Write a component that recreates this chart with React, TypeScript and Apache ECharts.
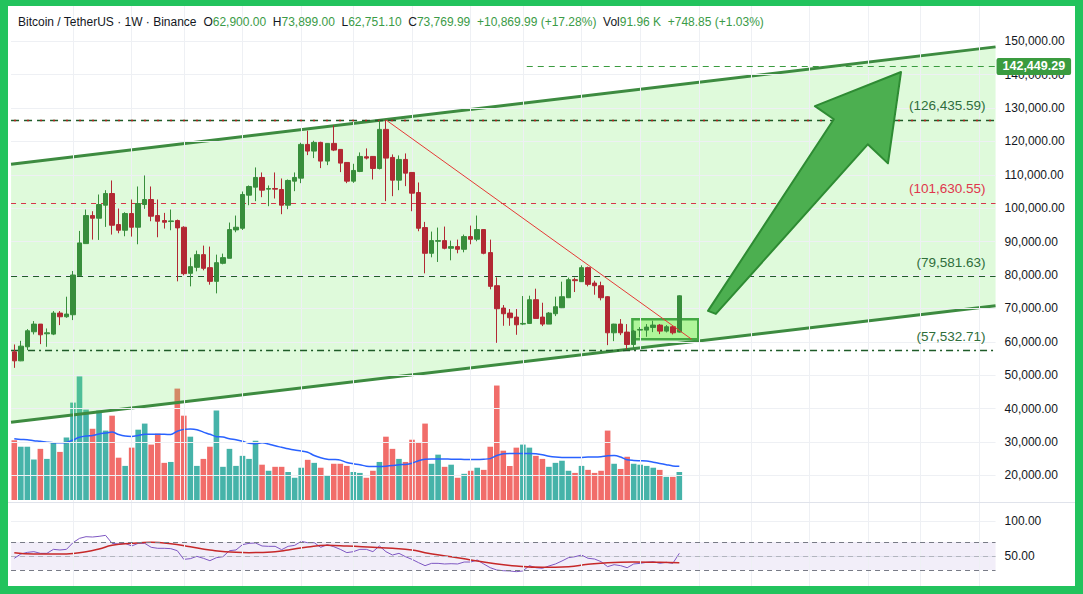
import React, { useEffect, useRef } from 'react';
import * as echarts from 'echarts';

// ---------- DATA ----------
const SLOTS = 151; // weekly slots on the time axis (103 candles + right margin)
const categories = Array.from({ length: SLOTS }, (_, i) => 'W' + i);

const opens = [
  57000, 54300, 58500, 63000, 65300, 62400, 62300, 68600, 67500, 68100,
  79800, 89400, 97800, 97000, 100900, 104400, 95100, 93400, 98400, 94300,
  101100, 102600, 97800, 96300, 96000, 96300, 94300, 80500, 82300, 86100,
  82200, 78100, 83500, 85000, 93500, 94000, 103900, 106300, 109200, 105700,
  105900, 105600, 100900, 108100, 109000, 119100, 117100, 119700, 114100, 119400,
  117600, 113700, 108100, 111000, 115400, 115500, 111900, 123600, 115200, 108400,
  114600, 110700, 104700, 94200, 86500, 90100, 90300, 88000, 88500, 87700,
  91500, 90700, 93600, 86700, 76800, 70100, 68600, 67400, 65300, 65500,
  72600, 67400, 65300, 68400, 70200, 73200, 78600, 78000, 82200, 77600,
  76800, 73500, 62700, 65300, 62900, 59200, 63500, 63500, 64300, 65000,
  63200, 64500, 62900,
];
const closes = [
  54300, 58700, 63300, 65300, 62100, 62700, 68600, 67500, 68300, 80000,
  89600, 97800, 97000, 101100, 104400, 94900, 93400, 98400, 94300, 101400,
  102600, 97600, 96100, 95800, 96200, 94100, 80400, 82500, 86100, 82000,
  78100, 83700, 85200, 93600, 94300, 104100, 106500, 109200, 105400, 105900,
  105700, 100900, 108300, 109200, 119100, 117100, 119700, 114100, 119400, 117400,
  113500, 108100, 111300, 115500, 115000, 111900, 123600, 115000, 108400, 114600,
  110500, 104500, 94000, 86500, 90300, 90300, 88000, 88500, 87700, 91500,
  90700, 93600, 86500, 76600, 69900, 68400, 67200, 65100, 65500, 72600,
  67000, 65300, 68600, 70500, 73500, 78600, 78300, 82200, 77200, 76800,
  73200, 62700, 65300, 62700, 59200, 63200, 63700, 64400, 65000, 63200,
  64500, 62700, 73769.99,
];
const lows = [
  52200, 54200, 57500, 62200, 59300, 58500, 62000, 65000, 67200, 66500,
  79800, 89400, 90600, 90500, 94400, 92100, 92500, 91600, 91500, 89200,
  99800, 96100, 91300, 93900, 93400, 78100, 79900, 76600, 81100, 81400,
  77100, 74500, 83200, 85000, 92800, 93500, 100900, 102100, 103300, 100600,
  102900, 98200, 99700, 105100, 107500, 115900, 115000, 112000, 112900, 117100,
  110800, 107500, 107600, 110800, 114600, 108600, 111600, 102100, 103600, 105400,
  106600, 99100, 93100, 80500, 85300, 83900, 87700, 84400, 86500, 86800,
  89200, 90100, 86200, 75700, 59700, 64800, 64800, 62100, 65000, 65400,
  67000, 64700, 65300, 67700, 70100, 73100, 74900, 77900, 76600, 74100,
  72400, 59000, 60200, 62000, 57800, 58000, 61300, 61500, 62900, 62300,
  62800, 62200, 62751.1,
];
const highs = [
  59200, 60300, 63800, 66200, 65300, 64000, 69200, 69200, 73500, 81200,
  93200, 99600, 99100, 104100, 105400, 108300, 99900, 98800, 102600, 106500,
  109800, 106500, 102600, 98600, 99600, 96600, 94600, 85200, 87300, 88800,
  88500, 86100, 86400, 95700, 97800, 105000, 106800, 112200, 110700, 106800,
  110700, 108900, 108600, 110700, 119600, 123200, 120200, 119900, 119500, 124800,
  117700, 113800, 113300, 116700, 117900, 115600, 126300, 126435, 116100, 115800,
  116400, 110800, 107700, 95900, 93000, 94200, 94500, 90300, 90600, 92100,
  94800, 97800, 93700, 90600, 79300, 71000, 69800, 69800, 73700, 73800,
  75900, 71700, 68900, 73500, 78000, 79200, 79200, 82900, 82500, 78300,
  78000, 73700, 65400, 66800, 65300, 63500, 64400, 65300, 66300, 65300,
  65000, 64700, 73899,
];
// weekly volume, thousands of BTC
const volumes = [
  196, 175, 175, 133, 168, 135, 188, 158, 205, 320,
  406, 297, 234, 294, 228, 277, 139, 112, 172, 231,
  251, 182, 218, 122, 125, 366, 277, 208, 112, 135,
  175, 294, 109, 168, 112, 145, 135, 195, 116, 96,
  109, 109, 92, 73, 106, 132, 122, 106, 79, 119,
  119, 112, 92, 89, 73, 96, 125, 208, 168, 135,
  125, 198, 188, 251, 119, 149, 109, 116, 73, 86,
  96, 106, 99, 175, 376, 162, 112, 172, 182, 172,
  145, 135, 109, 122, 129, 96, 89, 112, 99, 89,
  96, 228, 119, 102, 142, 119, 116, 112, 106, 99,
  76, 76, 92,
];
const volumeMA = [
  201, 199, 198, 195, 193, 190, 188, 188, 189, 197,
  206, 210, 212, 217, 220, 223, 215, 210, 209, 212,
  216, 216, 216, 216, 215, 226, 232, 233, 231, 223,
  216, 208, 207, 201, 198, 193, 186, 185, 188, 184,
  178, 173, 168, 164, 161, 157, 146, 139, 134, 133,
  131, 123, 119, 116, 111, 110, 110, 111, 113, 116,
  117, 121, 129, 134, 135, 135, 135, 134, 134, 133,
  133, 133, 134, 136, 146, 152, 153, 153, 153, 153,
  152, 149, 144, 141, 140, 140, 140, 140, 141, 141,
  142, 145, 146, 141, 132, 130, 129, 128, 124, 120,
  116, 112, 111,
];
const rsi = [
  46.7, 52.9, 55.2, 56.2, 53.8, 53.8, 59.5, 58.6, 59.5, 69.0,
  75.2, 77.6, 77.1, 78.1, 79.5, 68.1, 67.1, 68.1, 64.3, 68.1,
  68.1, 62.4, 61.0, 61.0, 60.5, 57.6, 45.2, 46.2, 49.5, 46.7,
  43.3, 47.6, 49.0, 57.6, 58.6, 66.2, 68.1, 68.6, 64.3, 63.8,
  63.8, 59.0, 63.8, 65.2, 70.9, 69.0, 69.0, 62.4, 66.2, 63.3,
  59.5, 54.8, 56.2, 59.5, 59.5, 56.2, 64.3, 56.2, 51.4, 53.8,
  49.0, 45.2, 40.5, 36.2, 39.5, 39.5, 38.6, 39.0, 38.6, 41.4,
  41.4, 44.3, 38.6, 33.3, 30.0, 29.0, 28.6, 27.6, 28.6, 36.2,
  33.3, 32.4, 35.7, 38.6, 42.9, 47.6, 49.0, 51.4, 46.7, 45.7,
  41.9, 34.8, 37.6, 36.2, 33.3, 38.6, 39.5, 41.0, 41.9, 39.5,
  41.0, 39.5, 53.8,
];
const rsiMaIdx = [0, 3, 8, 11, 13, 15, 18, 21, 24, 27, 30, 34, 36, 40, 42, 45, 48, 51, 55, 58, 61, 63, 67, 70, 73, 77, 81, 85, 88, 91, 95, 99, 102];
const rsiMaVal = [54.8, 52.9, 52.9, 56.2, 60.0, 65.2, 68.1, 69.5, 67.6, 63.3, 58.6, 55.2, 54.8, 56.2, 58.6, 62.9, 65.2, 64.3, 62.4, 61.0, 58.6, 54.8, 49.0, 44.3, 40.0, 35.7, 33.8, 34.8, 38.1, 40.5, 41.4, 41.0, 40.5];

const priceTicks = [20000, 30000, 40000, 50000, 60000, 70000, 80000, 90000, 100000, 110000, 120000, 130000, 140000, 150000];
const rsiTicks = [50, 100];
const levels = [126435.59, 101630.55, 79581.63, 57532.71];
const targetPrice = 142449.29;
const monthLines = [9, 18, 26, 35, 44, 52, 61, 70, 78, 87, 96, 105, 113, 122, 131, 139, 148];

// drawings in [week index, price]
const channelUpper = [[-0.5, 113160], [150.5, 148298]];
const channelLower = [[-0.5, 35931], [150.5, 70782]];
const trendLine = [[57, 126435.59], [103.9, 60746]];
const boxCorners = [[94.8, 66756], [104.9, 60746]];
const arrowPts = [
  [106.4, 69250], [125.7, 126645], [122.8, 130552], [136.0, 140769],
  [134.0, 113423], [130.9, 119133], [107.6, 68348],
];
const targetStart = 78.6;

// header legend: [style, text]
const headerParts: [string, string][] = [
  ['d', 'Bitcoin / TetherUS · 1W · Binance'], ['s', '  '],
  ['d', 'O'], ['g', '62,900.00'], ['s', '  '],
  ['d', 'H'], ['g', '73,899.00'], ['s', '  '],
  ['d', 'L'], ['g', '62,751.10'], ['s', '  '],
  ['d', 'C'], ['g', '73,769.99'], ['s', '  '],
  ['g', '+10,869.99 (+17.28%)'], ['s', '  '],
  ['d', 'Vol'], ['g', '91.96 K'], ['s', '  '],
  ['g', '+748.85 (+1.03%)'],
];

// ---------- STYLE ----------
const FONT = '"Liberation Sans", Arial, sans-serif';
const UP = '#388e3c';
const DOWN = '#b22833';
const DARK = '#131722';
const HEAD_GREEN = '#3b9b47';
const LEVEL_GREEN = '#2f6e3b';
const LEVEL_RED = '#e0364c';
const GRID_C = '#eef0f4';
const LEFT = 11.04;
const WIDTH = 984.5;

const fmt = (v: number) => v.toLocaleString('en-US', { minimumFractionDigits: 2, maximumFractionDigits: 2 });

const polySeries = (name: string, pts: number[][], style: any, z: number) => ({
  name,
  type: 'custom',
  xAxisIndex: 1,
  yAxisIndex: 0,
  data: [pts[0]],
  z,
  silent: true,
  clip: true,
  renderItem: (_p: any, api: any) => ({
    type: 'polygon',
    shape: { points: pts.map((pt) => api.coord(pt)) },
    style,
  }),
});

function buildOption() {
  const candleData = opens.map((o, i) => [o, closes[i], lows[i], highs[i]]);
  const volData = volumes.map((v, i) => ({
    value: v,
    itemStyle: { color: closes[i] >= opens[i] ? 'rgba(38,166,154,0.85)' : 'rgba(239,83,80,0.85)' },
  }));
  const boxPts = [
    [boxCorners[0][0], boxCorners[0][1]], [boxCorners[1][0], boxCorners[0][1]],
    [boxCorners[1][0], boxCorners[1][1]], [boxCorners[0][0], boxCorners[1][1]],
  ];
  const channelPts = [channelUpper[0], channelUpper[1], channelLower[1], channelLower[0]];

  const levelStyles = [
    { color: '#1e5b28', type: [8, 5], width: 1.3, label: LEVEL_GREEN },
    { color: '#d6334a', type: [5, 5], width: 1.2, label: LEVEL_RED },
    { color: '#1e5b28', type: [6, 5], width: 1.2, label: LEVEL_GREEN },
    { color: '#1e5b28', type: [7, 4, 2, 4], width: 1.4, label: LEVEL_GREEN },
  ];
  const levelLines: any[] = levels.map((lv, k) => ({
    yAxis: lv,
    lineStyle: { color: levelStyles[k].color, type: levelStyles[k].type, width: levelStyles[k].width },
    label: {
      show: true,
      position: 'insideEndTop',
      distance: [10, 7],
      formatter: '(' + fmt(lv) + ')',
      color: levelStyles[k].label,
      fontSize: 13.5,
      fontFamily: FONT,
    },
  }));
  levelLines.push({
    yAxis: levels[0],
    lineStyle: { color: '#b71c1c', type: [2, 11], dashOffset: 10, width: 1.3 },
    label: { show: false },
  });

  const headerText = headerParts.map(([s, t]) => '{' + s + '|' + t + '}').join('');

  return {
    animation: false,
    backgroundColor: '#ffffff',
    textStyle: { fontFamily: FONT },
    grid: [
      { left: LEFT, top: 7.8, width: WIDTH, height: 501 },
      { left: LEFT, top: 300, width: WIDTH, height: 200 },
      { left: LEFT, top: 521, width: WIDTH, height: 70 },
      { left: LEFT, top: 6, width: WIDTH, height: 580 },
    ],
    xAxis: [
      { type: 'category', gridIndex: 0, data: categories, show: false, boundaryGap: true },
      { type: 'value', gridIndex: 0, min: -0.5, max: SLOTS - 0.5, show: false },
      { type: 'category', gridIndex: 1, data: categories, show: false, boundaryGap: true },
      { type: 'category', gridIndex: 2, data: categories, show: false, boundaryGap: true },
      { type: 'value', gridIndex: 3, min: -0.5, max: SLOTS - 0.5, show: false },
    ],
    yAxis: [
      {
        type: 'value', gridIndex: 0, min: 10000, max: 160000, interval: 10000, position: 'right',
        axisLine: { show: false }, axisTick: { show: false }, splitLine: { show: false },
        axisLabel: {
          margin: 9, color: DARK, fontSize: 12, fontFamily: FONT,
          formatter: (v: number) => (priceTicks.includes(v) ? fmt(v) : ''),
        },
      },
      { type: 'value', gridIndex: 1, min: 0, max: 657, show: false },
      {
        type: 'value', gridIndex: 2, min: 0, max: 100, interval: 50, position: 'right',
        axisLine: { show: false }, axisTick: { show: false },
        splitLine: { show: true, lineStyle: { color: GRID_C } },
        axisLabel: {
          margin: 9, color: DARK, fontSize: 12, fontFamily: FONT,
          formatter: (v: number) => (rsiTicks.includes(v) ? fmt(v) : ''),
        },
      },
      { type: 'value', gridIndex: 3, min: 0, max: 1, show: false },
    ],
    graphic: [
      {
        type: 'line', z: 50, silent: true,
        shape: { x1: 8, y1: 502.5, x2: 1075, y2: 502.5 },
        style: { stroke: '#e0e3eb', lineWidth: 1 },
      },
      {
        type: 'text', x: 18, y: 22, z: 100, silent: true,
        style: {
          text: headerText,
          verticalAlign: 'middle',
          rich: {
            d: { fill: DARK, fontSize: 12, fontFamily: FONT },
            g: { fill: HEAD_GREEN, fontSize: 12, fontFamily: FONT },
            s: { fill: DARK, fontSize: 12, fontFamily: FONT },
          },
        },
      },
    ],
    series: [
      // vertical grid lines
      {
        name: 'vgrid', type: 'line', xAxisIndex: 4, yAxisIndex: 3, data: [[-5, -5]], showSymbol: false, silent: true, z: 1,
        markLine: {
          silent: true, symbol: ['none', 'none'], label: { show: false },
          lineStyle: { color: GRID_C, width: 1, type: 'solid' },
          data: monthLines.map((x) => ({ xAxis: x })),
        },
      },
      // horizontal price grid lines
      {
        name: 'hgrid', type: 'line', xAxisIndex: 1, yAxisIndex: 0, data: [[-5, 0]], showSymbol: false, silent: true, z: 1,
        markLine: {
          silent: true, symbol: ['none', 'none'], label: { show: false },
          lineStyle: { color: GRID_C, width: 1, type: 'solid' },
          data: priceTicks.map((p) => ({ yAxis: p })),
        },
      },
      // volume
      {
        name: 'Volume', type: 'bar', xAxisIndex: 2, yAxisIndex: 1, data: volData, barWidth: 5.6, z: 1, silent: true,
      },
      {
        name: 'Volume MA', type: 'line', xAxisIndex: 2, yAxisIndex: 1, data: volumeMA, showSymbol: false, smooth: 0.3,
        lineStyle: { color: '#2962ff', width: 1.5 }, z: 1, silent: true,
      },
      // channel fill
      polySeries('channelFill', channelPts, { fill: 'rgba(110,230,90,0.22)' }, 2),
      // channel lines
      {
        name: 'channelUpper', type: 'line', xAxisIndex: 1, yAxisIndex: 0, data: channelUpper, showSymbol: false, silent: true,
        lineStyle: { color: '#3d8b40', width: 3 }, z: 3,
      },
      {
        name: 'channelLower', type: 'line', xAxisIndex: 1, yAxisIndex: 0, data: channelLower, showSymbol: false, silent: true,
        lineStyle: { color: '#3d8b40', width: 3 }, z: 3,
        markLine: {
          silent: true, symbol: ['none', 'none'],
          data: levelLines,
        },
      },
      // target line with price tag
      {
        name: 'target', type: 'line', xAxisIndex: 1, yAxisIndex: 0, data: [[-5, 0]], showSymbol: false, silent: true, z: 6,
        markLine: {
          silent: true, symbol: ['none', 'none'],
          lineStyle: { color: '#3a9b3f', type: [6, 5], width: 1 },
          label: {
            show: true, position: 'end', distance: 1, formatter: fmt(targetPrice),
            backgroundColor: '#3a9b3f', color: '#ffffff', fontSize: 12.5, fontWeight: 'bold', fontFamily: FONT,
            padding: [2, 6, 2, 6], borderRadius: 2,
          },
          data: [[{ coord: [targetStart, targetPrice] }, { coord: [SLOTS - 0.5, targetPrice] }]],
        },
      },
      // consolidation box
      polySeries('box', boxPts, { fill: 'rgba(150,245,120,0.65)', stroke: '#43a843', lineWidth: 2.5 }, 4),
      // candles
      {
        name: 'BTCUSDT', type: 'candlestick', xAxisIndex: 0, yAxisIndex: 0, data: candleData, barWidth: 5, z: 5, silent: true,
        itemStyle: { color: UP, color0: DOWN, borderColor: UP, borderColor0: DOWN, borderWidth: 1 },
      },
      // red trend line
      {
        name: 'trend', type: 'line', xAxisIndex: 1, yAxisIndex: 0, data: trendLine, showSymbol: false, silent: true,
        lineStyle: { color: '#e53935', width: 1 }, z: 6,
      },
      // arrow
      polySeries('arrow', arrowPts, { fill: '#4caf50', stroke: '#2e8b33', lineWidth: 2, lineJoin: 'round' }, 7),
      // RSI
      {
        name: 'RSI', type: 'line', xAxisIndex: 3, yAxisIndex: 2, data: rsi, showSymbol: false, silent: true,
        lineStyle: { color: '#7e57c2', width: 1 }, z: 4,
        markArea: {
          silent: true, itemStyle: { color: 'rgba(126,87,194,0.1)' },
          data: [[{ yAxis: 30 }, { yAxis: 70 }]],
        },
        markLine: {
          silent: true, symbol: ['none', 'none'], label: { show: false },
          lineStyle: { color: '#787b86', type: [5, 4], width: 1 },
          data: [
            { yAxis: 70 },
            { yAxis: 50, lineStyle: { color: '#b2b5be', type: [5, 4], width: 1 } },
            { yAxis: 30 },
          ],
        },
      },
      {
        name: 'RSI MA', type: 'line', xAxisIndex: 3, yAxisIndex: 2,
        data: rsiMaIdx.map((x, k) => [x, rsiMaVal[k]]),
        showSymbol: false, smooth: true, silent: true,
        lineStyle: { color: '#c62828', width: 1.5 }, z: 4,
      },
    ],
  };
}

export default function App() {
  const ref = useRef<HTMLDivElement>(null);
  useEffect(() => {
    if (!ref.current) return;
    const chart = echarts.init(ref.current, undefined, { renderer: 'svg' });
    chart.setOption(buildOption() as any);
    return () => chart.dispose();
  }, []);
  return (
    <div style={{ position: 'fixed', left: 0, top: 0, width: 1083, height: 594, background: '#ffffff', overflow: 'hidden' }}>
      <div ref={ref} style={{ width: 1083, height: 594 }} />
      <div
        style={{
          position: 'absolute', left: 0, top: 0, width: 1083, height: 594, boxSizing: 'border-box',
          borderStyle: 'solid', borderColor: '#22c35d', borderWidth: '6px 8px 8px 8px', pointerEvents: 'none',
        }}
      />
    </div>
  );
}
